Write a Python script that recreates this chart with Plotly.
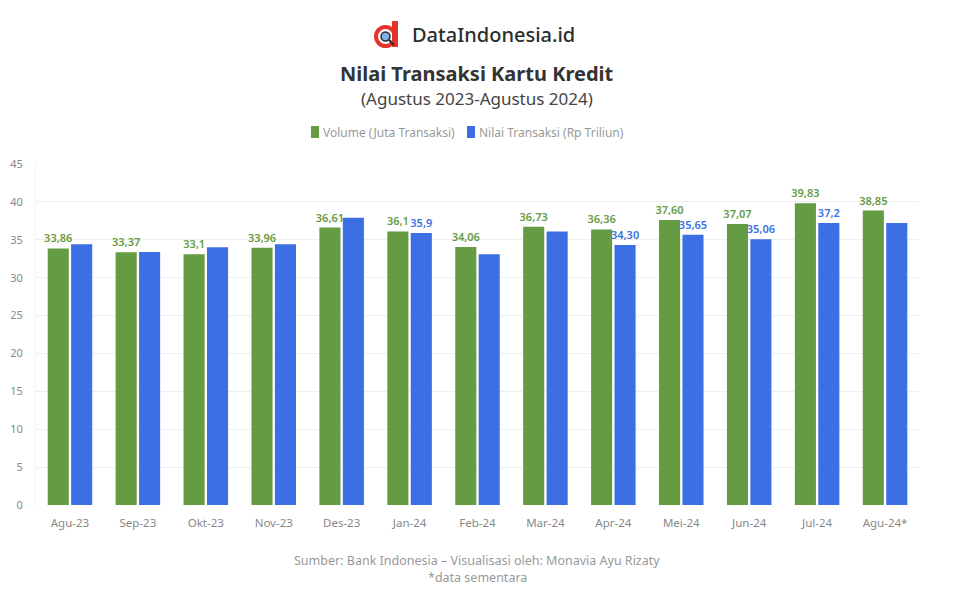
import plotly.graph_objects as go

categories = ["Agu-23", "Sep-23", "Okt-23", "Nov-23", "Des-23", "Jan-24", "Feb-24",
              "Mar-24", "Apr-24", "Mei-24", "Jun-24", "Jul-24", "Agu-24*"]
volume = [33.86, 33.37, 33.1, 33.96, 36.61, 36.1, 34.06, 36.73, 36.36, 37.6, 37.07, 39.83, 38.85]
volume_labels = ["33,86", "33,37", "33,1", "33,96", "36,61", "36,1", "34,06", "36,73", "36,36",
                 "37,60", "37,07", "39,83", "38,85"]
nilai = [34.4, 33.4, 34.0, 34.4, 37.9, 35.9, 33.1, 36.1, 34.3, 35.65, 35.06, 37.2, 37.2]
nilai_labels = ["", "", "", "", "", "35,9", "", "", "34,30", "35,65", "35,06", "37,2", ""]
y_ticks = [0, 5, 10, 15, 20, 25, 30, 35, 40, 45]

GREEN = "#659b43"
BLUE = "#3b6fe3"
W, H = 954, 596
OFF = 8  # page body margin
X0, X1, Y0, Y1 = 36, 919, 164, 505  # intended on-screen plot box
L, R, T, B = X0 - OFF, W - X1 + OFF, Y0 - OFF, H - Y1 + OFF
PW, PH = X1 - X0, Y1 - Y0


def px(x):
    return (x - X0) / PW


def py(y):
    return (Y1 - y) / PH


label_font = dict(size=11, family="Noto Sans", weight=600)

fig = go.Figure()
fig.add_trace(go.Bar(
    name="Volume (Juta Transaksi)", x=categories, y=volume,
    marker=dict(color=GREEN, line=dict(width=0)),
    text=volume_labels, textposition="outside", constraintext="none",
    textfont=dict(color=GREEN, **label_font),
    cliponaxis=False,
))
fig.add_trace(go.Bar(
    name="Nilai Transaksi (Rp Triliun)", x=categories, y=nilai,
    marker=dict(color=BLUE, line=dict(width=0)),
    text=nilai_labels, textposition="outside", constraintext="none",
    textfont=dict(color=BLUE, **label_font),
    cliponaxis=False,
))

fig.update_layout(
    width=W, height=H,
    margin=dict(l=L, r=R, t=T, b=B),
    paper_bgcolor="white", plot_bgcolor="white",
    barmode="group", bargap=0.31, bargroupgap=0.1,
    font=dict(family="Noto Sans", color="#888"),
    showlegend=False,
    xaxis=dict(showgrid=False, tickfont=dict(size=11.5, color="#888"), ticks="",
               showline=False, ticklabelstandoff=9, automargin=False),
    yaxis=dict(range=[0, 45], tickvals=y_ticks, showgrid=True, gridcolor="#efefef",
               tickfont=dict(size=11, color="#888"), zeroline=False,
               showline=True, linecolor="#f2f2f2", ticks="", ticklabelstandoff=10,
               automargin=False),
)

shapes = []
# Header logo
shapes.append(dict(type="circle", x0=px(376), x1=px(395), y0=py(46), y1=py(27),
                   line=dict(color="#e5322d", width=4), fillcolor="white"))
shapes.append(dict(type="rect", x0=px(392), x1=px(398), y0=py(47), y1=py(21),
                   line=dict(width=0), fillcolor="#e5322d"))
shapes.append(dict(type="circle", x0=px(381), x1=px(390), y0=py(41), y1=py(32),
                   line=dict(color="#2b2b2b", width=1.5), fillcolor="#7fb3e6"))
shapes.append(dict(type="line", x0=px(389), x1=px(394), y0=py(40), y1=py(45),
                   line=dict(color="#2b2b2b", width=2)))
# Legend markers
shapes.append(dict(type="rect", x0=px(311), x1=px(319), y0=py(138), y1=py(126),
                   line=dict(width=0), fillcolor=GREEN))
shapes.append(dict(type="rect", x0=px(467), x1=px(475), y0=py(138), y1=py(126),
                   line=dict(width=0), fillcolor=BLUE))
for s in shapes:
    s.update(xref="paper", yref="paper")
fig.update_layout(shapes=shapes)

annotations = [
    dict(text="DataIndonesia.id", x=px(410), y=py(35), xanchor="left", yanchor="middle",
         font=dict(size=20, color="#2d2d2d", family="Noto Sans", weight=500)),
    dict(text="<b>Nilai Transaksi Kartu Kredit</b>", x=px(477), y=py(73), xanchor="center",
         yanchor="middle", font=dict(size=20, color="#333", family="Noto Sans")),
    dict(text="(Agustus 2023-Agustus 2024)", x=px(477), y=py(99), xanchor="center",
         yanchor="middle", font=dict(size=17, color="#444", family="Noto Sans")),
    dict(text="Volume (Juta Transaksi)", x=px(321), y=py(132), xanchor="left",
         yanchor="middle", font=dict(size=12, color="#999", family="Noto Sans")),
    dict(text="Nilai Transaksi (Rp Triliun)", x=px(477), y=py(132), xanchor="left",
         yanchor="middle", font=dict(size=12, color="#999", family="Noto Sans")),
    dict(text="Sumber: Bank Indonesia \u2013 Visualisasi oleh: Monavia Ayu Rizaty", x=px(477),
         y=py(560), xanchor="center", yanchor="middle",
         font=dict(size=12.5, color="#999", family="Noto Sans")),
    dict(text="*data sementara", x=px(477), y=py(577), xanchor="center", yanchor="middle",
         font=dict(size=12.5, color="#999", family="Noto Sans")),
]
for a in annotations:
    a.update(xref="paper", yref="paper", showarrow=False)
fig.update_layout(annotations=annotations)

fig.write_html("out.html")
